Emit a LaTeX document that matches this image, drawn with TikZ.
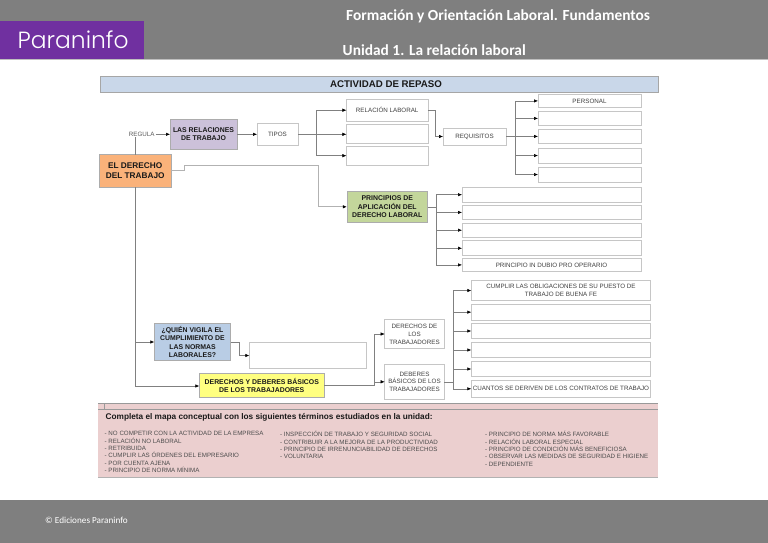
\documentclass[tikz,border=0pt]{standalone}
\usepackage{fontspec}
\setmainfont{Liberation Sans}
\newfontfamily\slidefont{Carlito}
\newfontfamily\logofont{Poppins Light}
\usetikzlibrary{arrows.meta,positioning}
\definecolor{slidegray}{HTML}{7F7F7F}
\definecolor{logopurple}{HTML}{7030A0}
\definecolor{titlebar}{HTML}{C9D7E9}
\definecolor{panelpink}{HTML}{EBCFCF}
\definecolor{keyorange}{HTML}{FAB27A}
\definecolor{keypurple}{HTML}{CCC1DA}
\definecolor{keygreen}{HTML}{C3D69B}
\definecolor{keyblue}{HTML}{B9CDE5}
\definecolor{keyyellow}{HTML}{FFFF80}
\tikzset{
    mapbox/.style={draw=gray!45, line width=0.8pt, fill=white, align=center, inner sep=0pt, outer sep=0pt, text=black!75, font=\fontsize{6.25}{7.9}\selectfont},
    mapkey/.style={draw=gray!65, line width=0.6pt, align=center, inner sep=0pt, outer sep=0pt, text=black!90, font=\fontsize{6.9}{8.3}\selectfont\bfseries},
    maparrow/.style={-{Latex[length=4pt,width=3.4pt,black]}, draw=black!50, line width=0.5pt},
    mapline/.style={draw=black!50, line width=0.5pt},
    listtext/.style={anchor=north west, align=left, inner sep=0pt, text=black!70, font=\fontsize{6.2}{7.47}\selectfont},
    slidetext/.style={anchor=west, inner sep=0pt, text=white, font=\slidefont\bfseries\fontsize{15.4}{17}\selectfont}
}
\begin{document}
\begin{tikzpicture}[x=1pt, y=-1pt]
    \useasboundingbox (0,0) rectangle (768,543);
    % slide frame
    \fill[slidegray] (0,0) rectangle (768,59);
    \fill[gray!50] (0,59) rectangle (768,60);
    \fill[slidegray] (0,500) rectangle (768,543);
    \fill[logopurple] (0,21) rectangle (144,59);
    \node[anchor=west, inner sep=0pt, text=white, font=\logofont\fontsize{23.4}{25}\selectfont] (logo) at (17.5,40) {Paraninfo};
    \node[slidetext] (course) at (346,16) {Formación y Orientación Laboral. Fundamentos};
    \node[slidetext] (unit) at (342.5,50.5) {Unidad 1. La relación laboral};
    \node[anchor=west, inner sep=0pt, text=white, font=\slidefont\fontsize{9.2}{11}\selectfont] (footer) at (45,520) {© Ediciones Paraninfo};
    % title and bottom panel
    \node[draw=gray!70, fill=titlebar, minimum width=558pt, minimum height=16pt, inner sep=0pt, outer sep=0pt, font=\fontsize{9.7}{11}\selectfont\bfseries, text=black!90] (title) at (379,84) {\hspace*{14pt}ACTIVIDAD DE REPASO};
    \fill[panelpink] (98,403) rectangle (658,477);
    \draw[gray!80, line width=0.5pt] (98,403) -- (658,403);
    \draw[gray!80, line width=0.5pt] (98,409.3) -- (658,409.3);
    \draw[gray!80, line width=0.5pt] (104.3,403) -- (104.3,409.3);
    \draw[gray!60, line width=0.5pt] (98,477) -- (658,477);
    \node[anchor=west, inner sep=0pt, font=\fontsize{8.25}{10}\selectfont\bfseries, text=black!90] (instruction) at (105.5,417) {Completa el mapa conceptual con los siguientes términos estudiados en la unidad:};
    \node[listtext] (terms1) at (104.5,431) {- NO COMPETIR CON LA ACTIVIDAD DE LA EMPRESA\\- RELACIÓN NO LABORAL\\- RETRIBUIDA\\- CUMPLIR LAS ÓRDENES DEL EMPRESARIO\\- POR CUENTA AJENA\\- PRINCIPIO DE NORMA MÍNIMA};
    \node[listtext] (terms2) at (280,431) {- INSPECCIÓN DE TRABAJO Y SEGURIDAD SOCIAL\\- CONTRIBUIR A LA MEJORA DE LA PRODUCTIVIDAD\\- PRINCIPIO DE IRRENUNCIABILIDAD DE DERECHOS\\- VOLUNTARIA};
    \node[listtext] (terms3) at (485,431) {- PRINCIPIO DE NORMA MÁS FAVORABLE\\- RELACIÓN LABORAL ESPECIAL\\- PRINCIPIO DE CONDICIÓN MÁS BENEFICIOSA\\- OBSERVAR LAS MEDIDAS DE SEGURIDAD E HIGIENE\\- DEPENDIENTE};
    % main nodes
    \node[mapkey, fill=keyorange, font=\fontsize{8.25}{10}\selectfont\bfseries, minimum width=71.7pt, minimum height=32.6pt] (derecho) at (135.2,171) {EL DERECHO\\DEL TRABAJO};
    \node[anchor=center, inner sep=0pt, outer sep=1pt, text=black!65, font=\fontsize{6.25}{7}\selectfont] (regula) at (141.7,134.3) {REGULA};
    \node[mapkey, fill=keypurple, minimum width=67pt, minimum height=29.5pt] (relaciones) at (203.5,134.3) {LAS RELACIONES\\DE TRABAJO};
    \node[mapbox, minimum width=41pt, minimum height=22pt, right=20pt of relaciones] (tipos) {TIPOS};
    \node[mapbox, minimum width=81.5pt, minimum height=22pt] (rellaboral) at (387.2,110.2) {RELACIÓN LABORAL};
    \node[mapbox, minimum width=81.5pt, minimum height=18.7pt, below=3pt of rellaboral] (relesp) {};
    \node[mapbox, minimum width=81.5pt, minimum height=19pt, below=3.3pt of relesp] (relno) {};
    \node[mapbox, minimum width=63pt, minimum height=17pt] (requisitos) at (474.5,136.5) {REQUISITOS};
    \node[mapbox, minimum width=103pt, minimum height=13.7pt] (personal) at (589.5,100.9) {PERSONAL};
    \node[mapbox, minimum width=103pt, minimum height=14.7pt, below=3.3pt of personal] (reqb) {};
    \node[mapbox, minimum width=103pt, minimum height=14.7pt, below=3.3pt of reqb] (reqc) {};
    \node[mapbox, minimum width=103pt, minimum height=15pt, below=4.3pt of reqc] (reqd) {};
    \node[mapbox, minimum width=103pt, minimum height=15pt, below=4pt of reqd] (reqe) {};
    \node[mapkey, fill=keygreen, minimum width=80.7pt, minimum height=31.7pt] (principios) at (387.3,206.8) {PRINCIPIOS DE\\APLICACIÓN DEL\\DERECHO LABORAL};
    \node[mapbox, minimum width=179pt, minimum height=15.3pt] (prina) at (551.5,194.7) {};
    \node[mapbox, minimum width=179pt, minimum height=14.7pt, below=2.7pt of prina] (prinb) {};
    \node[mapbox, minimum width=179pt, minimum height=14.3pt, below=3.3pt of prinb] (princ) {};
    \node[mapbox, minimum width=179pt, minimum height=15pt, below=3.4pt of princ] (prind) {};
    \node[mapbox, minimum width=179pt, minimum height=12.3pt, below=3pt of prind] (prine) {PRINCIPIO IN DUBIO PRO OPERARIO};
    \node[mapkey, fill=keyblue, minimum width=76.4pt, minimum height=37.4pt] (vigila) at (192.5,342) {¿QUIÉN VIGILA EL\\CUMPLIMIENTO DE\\LAS NORMAS\\LABORALES?};
    \node[mapbox, minimum width=117.4pt, minimum height=26.4pt] (inspeccion) at (308,355.5) {};
    \node[mapkey, fill=keyyellow, minimum width=125pt, minimum height=23.6pt] (basicos) at (261.8,385.5) {DERECHOS Y DEBERES BÁSICOS\\DE LOS TRABAJADORES};
    \node[mapbox, minimum width=59.6pt, minimum height=29.4pt] (derechos) at (414.5,334) {DERECHOS DE\\LOS\\TRABAJADORES};
    \node[mapbox, minimum width=59.6pt, minimum height=35pt] (deberes) at (414.5,381.8) {DEBERES\\BÁSICOS DE LOS\\TRABAJADORES};
    \node[mapbox, minimum width=179.4pt, minimum height=19.6pt] (debera) at (561,290.5) {CUMPLIR LAS OBLIGACIONES DE SU PUESTO DE\\TRABAJO DE BUENA FE};
    \node[mapbox, minimum width=179.4pt, minimum height=15.7pt, below=4pt of debera] (deberb) {};
    \node[mapbox, minimum width=179.4pt, minimum height=15.4pt, below=3.3pt of deberb] (deberc) {};
    \node[mapbox, minimum width=179.4pt, minimum height=15.4pt, below=3.6pt of deberc] (deberd) {};
    \node[mapbox, minimum width=179.4pt, minimum height=15.4pt, below=3.6pt of deberd] (debere) {};
    \node[mapbox, minimum width=179.4pt, minimum height=17pt, below=3.6pt of debere] (deberf) {CUANTOS SE DERIVEN DE LOS CONTRATOS DE TRABAJO};
    % junctions
    \coordinate (trunktop) at (135.2,137);
    \coordinate (trunkbottom) at (135.2,386);
    \coordinate (trunkvigila) at (135.2,342);
    \coordinate (tiposjoin) at (316.3,134.3);
    \coordinate (relout) at (435.3,110.2);
    \coordinate (reqjoin) at (515,136.5);
    \coordinate (derout) at (184.3,170.3);
    \coordinate (derup) at (184.3,165);
    \coordinate (derover) at (318.3,165);
    \coordinate (prinjoin) at (436.3,206.8);
    \coordinate (vigout) at (239.7,342);
    \coordinate (basout) at (374.3,385.5);
    \coordinate (basjoin) at (374.3,381.8);
    \coordinate (debjoin) at (453.3,381.8);
    % connectors
    \draw[mapline] (trunktop) -- (derecho.north);
    \draw[mapline] (derecho.south) -- (trunkbottom);
    \draw[maparrow] (regula) -- (relaciones);
    \draw[maparrow] (trunkbottom) -- (trunkbottom -| basicos.west);
    \draw[maparrow] (trunkvigila) -- (vigila.west);
    \draw[maparrow] (relaciones) -- (tipos);
    \draw[mapline] (tipos.east) -- (tiposjoin);
    \draw[maparrow] (tiposjoin) |- (rellaboral.west);
    \draw[maparrow] (tipos.east) -- (relesp.west |- tipos.east);
    \draw[maparrow] (tiposjoin) |- (relno.west);
    \draw[maparrow] (rellaboral.east) -- (relout) |- (requisitos.west);
    \draw[mapline] (requisitos.east) -- (reqjoin);
    \draw[maparrow] (reqjoin) |- (personal.west);
    \draw[maparrow] (reqjoin) |- (reqb.west);
    \draw[maparrow] (reqjoin) |- (reqc.west);
    \draw[maparrow] (reqjoin) |- (reqd.west);
    \draw[maparrow] (reqjoin) |- (reqe.west);
    \draw[-{Latex[length=4pt,width=3.4pt,black]}, draw=gray!60, line width=0.8pt] (derecho.east |- derout) -- (derout) -- (derup) -- (derover) |- (principios.west);
    \draw[mapline] (principios.east) -- (prinjoin);
    \draw[maparrow] (prinjoin) |- (prina.west);
    \draw[maparrow] (prinjoin) |- (prinb.west);
    \draw[maparrow] (prinjoin) |- (princ.west);
    \draw[maparrow] (prinjoin) |- (prind.west);
    \draw[maparrow] (prinjoin) |- (prine.west);
    \draw[maparrow] (vigila.east) -- (vigout) |- (inspeccion.west);
    \draw[maparrow] (basicos.east) -- (basout) |- (derechos.west);
    \draw[maparrow] (basjoin) -- (deberes.west);
    \draw[mapline] (deberes.east) -- (debjoin);
    \draw[maparrow] (debjoin) |- (debera.west);
    \draw[maparrow] (debjoin) |- (deberb.west);
    \draw[maparrow] (debjoin) |- (deberc.west);
    \draw[maparrow] (debjoin) |- (deberd.west);
    \draw[maparrow] (debjoin) |- (debere.west);
    \draw[maparrow] (debjoin) |- (deberf.west);
\end{tikzpicture}
\end{document}
